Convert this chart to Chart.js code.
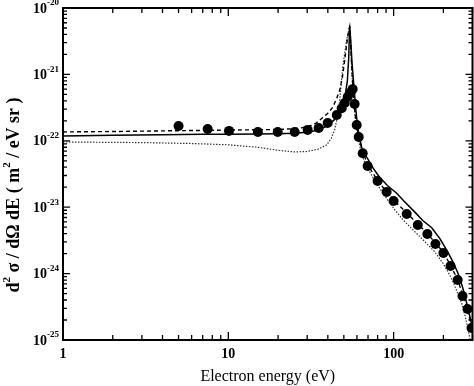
<!DOCTYPE html>
<html>
<head>
<meta charset="utf-8">
<script src="https://cdn.jsdelivr.net/npm/chart.js@4.4.1/dist/chart.umd.min.js"></script>
<style>
  html, body { margin: 0; padding: 0; background: #fff; }
  canvas { display: block; }
</style>
</head>
<body>
<canvas id="chart" width="474" height="386"></canvas>
<script>
/* ==========================
   DATA
========================== */
// solid curve
const solidE = [1, 2, 4, 7, 10, 15, 20, 25, 30, 35, 40, 44, 47, 49, 51, 52.5, 53.5, 54.2, 55, 56, 57.3, 59, 60.6, 64, 68.7, 75, 82, 92, 104, 115, 134, 150, 170, 190, 212, 230, 244, 260, 276, 290, 300];
const solidS = [1.18e-22, 1.21e-22, 1.23e-22, 1.25e-22, 1.26e-22, 1.27e-22, 1.28e-22, 1.30e-22, 1.34e-22, 1.45e-22, 1.7e-22, 2.1e-22, 2.7e-22, 3.5e-22, 5e-22, 8e-22, 1.8e-21, 5.4e-21, 3.3e-21, 1.5e-21, 7.4e-22, 3e-22, 1.61e-22, 8e-23, 5.7e-23, 3.9e-23, 2.85e-23, 2.1e-23, 1.64e-23, 1.25e-23, 8.5e-24, 6.3e-24, 4.9e-24, 3.4e-24, 2.14e-24, 1.45e-24, 1.04e-24, 6.5e-25, 3.7e-25, 2.2e-25, 1.5e-25];

// dashed curve
const dashE = [1, 2, 5, 10, 20, 25, 30, 34, 37, 40, 42.8, 45, 47.2, 49, 50.6, 52, 53, 54.2, 55, 55.8, 57, 58.5, 60, 62, 65, 70, 80, 90, 100, 120, 140, 160, 180, 200, 220, 245, 260, 280, 300];
const dashS = [1.36e-22, 1.38e-22, 1.42e-22, 1.45e-22, 1.48e-22, 1.52e-22, 1.61e-22, 1.85e-22, 2.2e-22, 2.6e-22, 3.2e-22, 4.2e-22, 5.8e-22, 9e-22, 1.65e-21, 2.8e-21, 4e-21, 5.2e-21, 2.8e-21, 1.3e-21, 5e-22, 2.5e-22, 1.6e-22, 1.05e-22, 6.8e-23, 4.3e-23, 2.5e-23, 1.75e-23, 1.28e-23, 8.2e-24, 5.6e-24, 4.0e-24, 2.85e-24, 2.1e-24, 1.35e-24, 8e-25, 5e-25, 2.9e-25, 1.35e-25];

// dotted curve
const dotE = [1, 3, 6, 10, 15, 20, 25, 30, 35, 39.4, 42, 44, 46, 47.2, 49.2, 52, 54.2, 55, 56, 57, 58.5, 60, 63, 67, 75, 85, 101, 115, 134, 155, 177, 200, 224, 240, 257, 272, 284, 300];
const dotS = [9.6e-23, 9.4e-23, 9.1e-23, 8.7e-23, 8.0e-23, 7.2e-23, 6.8e-23, 6.9e-23, 7.5e-23, 8.7e-23, 1.1e-22, 1.46e-22, 2.5e-22, 4.1e-22, 1.29e-21, 3.3e-21, 5.2e-21, 2.6e-21, 1.0e-21, 4.5e-22, 2.2e-22, 1.35e-22, 7.5e-23, 4.6e-23, 2.8e-23, 1.7e-23, 9.3e-24, 6.3e-24, 4.3e-24, 3.0e-24, 2.14e-24, 1.4e-24, 8.5e-25, 5.6e-25, 3.7e-25, 2.2e-25, 1.3e-25, 7e-26];

// experiment (filled circles)
const expE = [5.0, 7.5, 10.1, 15.1, 19.9, 25.2, 30.2, 35.2, 39.9, 45.3, 48.5, 50.6, 52.7, 55.0, 56.5, 58.1, 59.8, 61.5, 65, 69.6, 80, 90.7, 100, 120, 140, 160, 179, 200, 221, 244, 261, 280, 296];
const expS = [1.67e-22, 1.51e-22, 1.41e-22, 1.36e-22, 1.36e-22, 1.36e-22, 1.46e-22, 1.56e-22, 1.85e-22, 2.45e-22, 3.1e-22, 3.7e-22, 4.57e-22, 5.4e-22, 6.0e-22, 3.58e-22, 1.73e-22, 1.14e-22, 6.5e-23, 4.17e-23, 2.48e-23, 1.69e-23, 1.24e-23, 7.9e-24, 5.4e-24, 3.94e-24, 2.79e-24, 2.04e-24, 1.30e-24, 8.0e-25, 4.6e-25, 2.93e-25, 1.52e-25];

// ticks
const xTickValues = [1, 10, 100];
const yTickExponents = [-25, -24, -23, -22, -21, -20];

const pts = (xs, ys) => xs.map((x, i) => ({ x: x, y: ys[i] }));

/* ==========================
   FRAME, INWARD TICKS, Y LABELS
========================== */
const SERIF = '"Liberation Serif", "Times New Roman", serif';

const frameTicks = {
  id: 'frameTicks',
  afterDraw(chart) {
    const { ctx, chartArea: a, scales: { x, y } } = chart;
    ctx.save();
    ctx.strokeStyle = '#000';
    ctx.lineWidth = 2;
    ctx.strokeRect(a.left, a.top, a.right - a.left, a.bottom - a.top);

    ctx.lineWidth = 1.3;
    ctx.beginPath();
    // y ticks, left and right
    for (let e = -25; e < -20; e++) {
      for (let m = 1; m <= 9; m++) {
        const py = y.getPixelForValue(m * Math.pow(10, e));
        const len = m === 1 ? 7 : 4;
        ctx.moveTo(a.left, py); ctx.lineTo(a.left + len, py);
        ctx.moveTo(a.right, py); ctx.lineTo(a.right - len, py);
      }
    }
    // x ticks, bottom and top
    for (let e = 0; e <= 2; e++) {
      for (let m = 1; m <= 9; m++) {
        const v = m * Math.pow(10, e);
        if (v > 300) continue;
        const px = x.getPixelForValue(v);
        const len = m === 1 ? 8 : 5;
        ctx.moveTo(px, a.bottom); ctx.lineTo(px, a.bottom - len);
        ctx.moveTo(px, a.top); ctx.lineTo(px, a.top + len);
      }
    }
    ctx.stroke();

    // y tick labels: 10 with superscript exponent
    ctx.fillStyle = '#000';
    ctx.textAlign = 'left';
    ctx.textBaseline = 'middle';
    yTickExponents.forEach(e => {
      const py = y.getPixelForValue(Math.pow(10, e));
      ctx.font = 'bold 14px ' + SERIF;
      ctx.fillText('10', 33, py + 1);
      const w = ctx.measureText('10').width;
      ctx.font = 'bold 9px ' + SERIF;
      ctx.fillText(String(e), 33 + w, py - 5);
    });

    // y axis title, rotated, with superscripts
    const parts = [
      ['d', false], ['2', true], [' \u03c3 / d\u03a9 dE ( m', false], ['2', true], [' / eV sr )', false]
    ];
    const big = 'bold 18px ' + SERIF, small = 'bold 11px ' + SERIF;
    let total = 0;
    parts.forEach(p => { ctx.font = p[1] ? small : big; total += ctx.measureText(p[0]).width; });
    ctx.translate(14, 195);
    ctx.rotate(-Math.PI / 2);
    let cx = -total / 2;
    parts.forEach(p => {
      ctx.font = p[1] ? small : big;
      ctx.fillText(p[0], cx, p[1] ? -7 : 0);
      cx += ctx.measureText(p[0]).width;
    });
    ctx.restore();
  }
};

/* ==========================
   CHART
========================== */
new Chart(document.getElementById('chart'), {
  type: 'line',
  data: {
    datasets: [
      {
        data: pts(expE, expS),
        showLine: false,
        pointRadius: 5,
        pointBackgroundColor: '#000',
        pointBorderWidth: 0,
        order: 0
      },
      {
        data: pts(solidE, solidS),
        borderColor: '#000',
        borderWidth: 1.5,
        pointRadius: 0,
        tension: 0,
        order: 1
      },
      {
        data: pts(dashE, dashS),
        borderColor: '#000',
        borderWidth: 1.4,
        borderDash: [4, 3],
        pointRadius: 0,
        tension: 0,
        order: 2
      },
      {
        data: pts(dotE, dotS),
        borderColor: '#333',
        borderWidth: 1.2,
        borderDash: [1.5, 1.5],
        pointRadius: 0,
        tension: 0,
        order: 3
      }
    ]
  },
  options: {
    responsive: false,
    animation: false,
    devicePixelRatio: 1,
    clip: true,
    layout: { autoPadding: false, padding: { top: 8, right: 1.5, left: 0, bottom: 0 } },
    plugins: { legend: { display: false }, tooltip: { enabled: false } },
    scales: {
      x: {
        type: 'logarithmic',
        min: 1,
        max: 300,
        grid: { display: false, drawTicks: false },
        border: { display: false },
        afterBuildTicks: s => { s.ticks = xTickValues.map(v => ({ value: v })); },
        afterFit: s => { s.height = 46; s.paddingLeft = 0; s.paddingRight = 0; },
        ticks: {
          autoSkip: false,
          maxRotation: 0,
          padding: 6,
          color: '#000',
          font: { family: SERIF, size: 14, weight: 'bold' },
          callback: v => String(v)
        },
        title: {
          display: true,
          text: 'Electron energy (eV)',
          color: '#000',
          font: { family: SERIF, size: 16 },
          padding: { top: 0, bottom: 0 }
        }
      },
      y: {
        type: 'logarithmic',
        min: 1e-25,
        max: 1e-20,
        grid: { display: false, drawTicks: false },
        border: { display: false },
        afterBuildTicks: s => { s.ticks = yTickExponents.map(e => ({ value: Math.pow(10, e) })); },
        afterFit: s => { s.width = 63; },
        ticks: { display: false }
      }
    }
  },
  plugins: [frameTicks]
});
</script>
</body>
</html>
